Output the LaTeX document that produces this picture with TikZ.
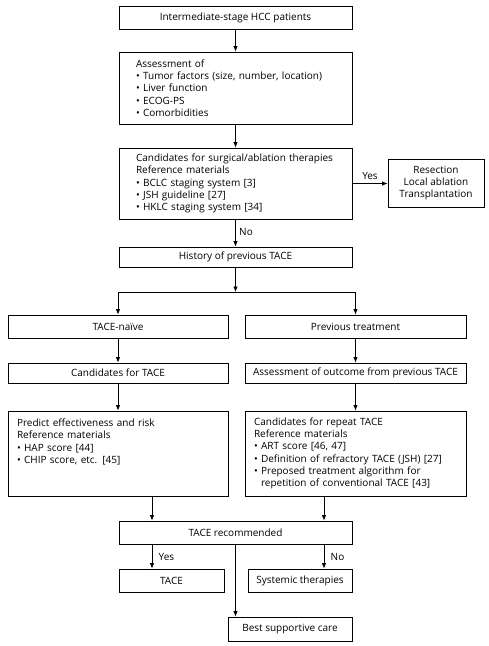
\documentclass[tikz,border=0pt]{standalone}
\usepackage{fontspec}
\setmainfont{Open Sans}
\usetikzlibrary{arrows.meta}

\tikzset{
  box/.style={draw, line width=0.8pt, inner sep=0pt, minimum height=20pt, font=\fontsize{10}{12.3}\selectfont},
  listbox/.style={box, align=left, inner xsep=9pt, anchor=center},
  arr/.style={-{Latex[length=5.5pt,width=4.5pt]}, line width=0.8pt},
  lbl/.style={font=\fontsize{10}{11}\selectfont}
}

\begin{document}
\begin{tikzpicture}[x=1pt,y=-1pt]
  \useasboundingbox (0,0) rectangle (489,646);

  % Define the columns of the lower arrows
  \coordinate (lx) at (152,0);
  \coordinate (rx) at (324,0);

  % Main column
  \node[box, minimum width=233pt, minimum height=23pt] (start) at (235.5,17.5) {Intermediate-stage HCC patients};
  \node[listbox, minimum width=233pt, text width=199pt, inner xsep=17pt, minimum height=72pt] (assess) at (235.5,88)
    {Assessment of\\ \textbullet\ Tumor factors (size, number, location)\\ \textbullet\ Liver function\\ \textbullet\ ECOG-PS\\ \textbullet\ Comorbidities};
  \node[listbox, minimum width=233pt, text width=199pt, inner xsep=17pt, minimum height=71pt] (cand) at (235.5,183.5)
    {Candidates for surgical/ablation therapies\\ Reference materials\\ \textbullet\ BCLC staging system [3]\\ \textbullet\ JSH guideline [27]\\ \textbullet\ HKLC staging system [34]};
  \node[box, align=center, minimum width=96pt, minimum height=48pt] (resect) at (436,183)
    {Resection\\ Local ablation\\ Transplantation};
  \node[box, minimum width=233pt] (history) at (235.5,257) {History of previous TACE};

  % Two branches
  \node[box, minimum width=220pt, minimum height=23pt] (naive) at (118,326.5) {TACE-naïve};
  \node[box, minimum width=221pt, minimum height=23pt] (prev) at (355.5,326.5) {Previous treatment};
  \node[box, minimum width=220pt] (candtace) at (118,373) {Candidates for TACE};
  \node[box, minimum width=221pt] (outcome) at (355.5,373) {Assessment of outcome from previous TACE};
  \node[listbox, minimum width=220pt, text width=202pt, minimum height=85pt] (predict) at (118,453.5)
    {Predict effectiveness and risk\\ Reference materials\\ \textbullet\ HAP score [44]\\ \textbullet\ CHIP score, etc. [45]\\ \mbox{}\\ \mbox{}};
  \node[listbox, minimum width=221pt, text width=203pt, minimum height=85pt] (repeat) at (355.5,453.5)
    {Candidates for repeat TACE\\ Reference materials\\ \textbullet\ ART score [46, 47]\\ \textbullet\ Definition of refractory TACE (JSH) [27]\\ \textbullet\ Preposed treatment algorithm for\\ \phantom{\textbullet\ }repetition of conventional TACE [43]};

  % Decision
  \node[box, minimum width=233pt, minimum height=23pt] (recom) at (235.5,532.5) {TACE recommended};
  \node[box, minimum width=105pt, minimum height=23pt] (tace) at (171.5,580.5) {TACE};
  \node[box, minimum width=104pt, minimum height=23pt] (systemic) at (300,580.5) {Systemic therapies};
  \node[box, minimum width=124pt, minimum height=24pt] (bsc) at (290,629) {Best supportive care};

  % Draw the arrows
  \draw[arr] (start) -- (assess);
  \draw[arr] (assess) -- (cand);
  \draw[arr] (cand.east) -- node[lbl, above] {Yes} (cand.east -| resect.west);
  \draw[arr] (cand) -- node[lbl, right, pos=0.45] {No} (history);

  \coordinate (split) at (history.south |- 0,292);
  \draw[arr] (history) -- (split);
  \draw[line width=0.8pt] (split -| naive) -- (split -| prev);
  \draw[arr] (split -| naive) -- (naive);
  \draw[arr] (split -| prev) -- (prev);

  \draw[arr] (naive) -- (candtace);
  \draw[arr] (prev) -- (outcome);
  \draw[arr] (candtace) -- (predict);
  \draw[arr] (outcome) -- (repeat);

  \draw[arr] (predict.south -| lx) -- (recom.north -| lx);
  \draw[arr] (repeat.south -| rx) -- (recom.north -| rx);
  \draw[arr] (recom.south -| lx) -- node[lbl, right, xshift=3pt] {Yes} (tace.north -| lx);
  \draw[arr] (recom.south -| rx) -- node[lbl, right, xshift=3pt] {No} (systemic.north -| rx);
  \draw[arr] (recom.south) -- (recom.south |- bsc.north);

\end{tikzpicture}
\end{document}
